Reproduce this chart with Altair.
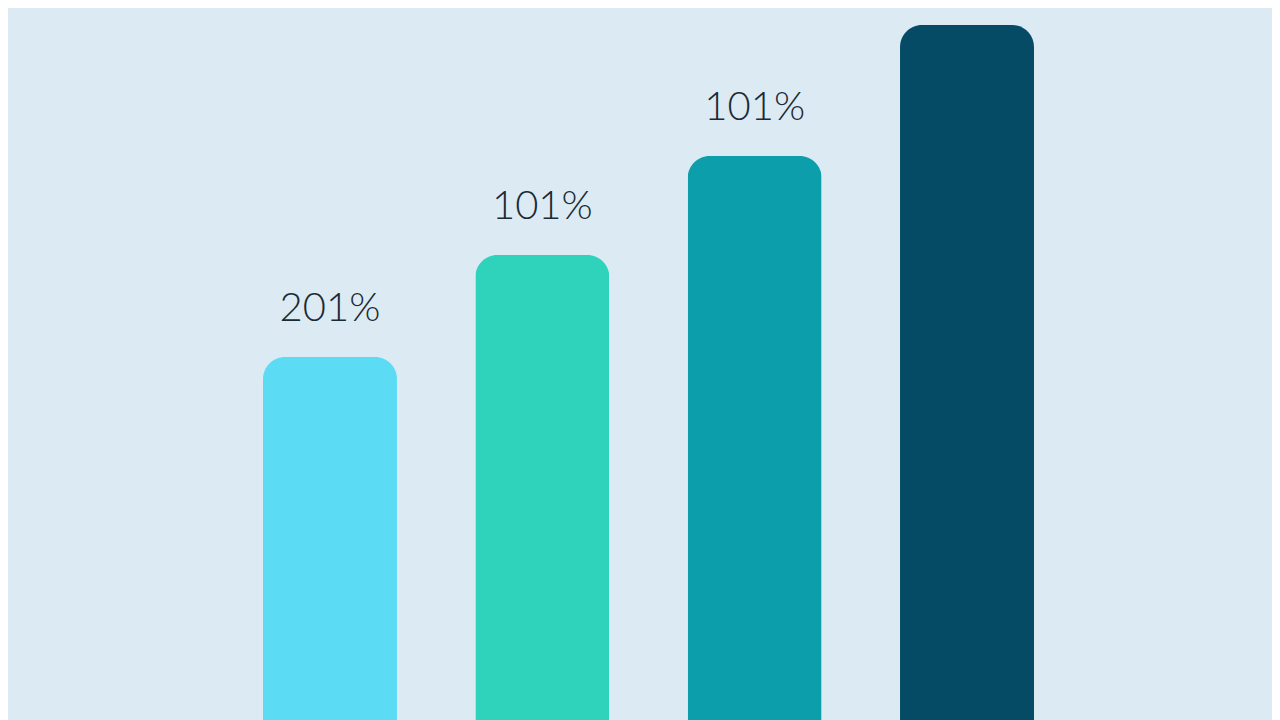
import altair as alt
import pandas as pd

categories = ["A", "B", "C", "D"]
heights = [363, 465, 564, 695]
labels = ["201%", "101%", "101%", ""]
colors = ["#5cdbf4", "#2fd3bc", "#0c9fab", "#054b66"]

df = pd.DataFrame({"cat": categories, "h": heights, "label": labels})

x = alt.X("cat:N", axis=None,
          scale=alt.Scale(paddingInner=0.369, paddingOuter=0, range=[255, 1026]))
y = alt.Y("h:Q", axis=None, scale=alt.Scale(domain=[0, 712], nice=False, zero=True))

bars = alt.Chart(df).mark_bar(cornerRadiusTopLeft=22, cornerRadiusTopRight=22).encode(
    x=x, y=y,
    color=alt.Color("cat:N", scale=alt.Scale(domain=categories, range=colors), legend=None),
)

text = alt.Chart(df).transform_filter("datum.label != ''").mark_text(
    dy=-36, baseline="alphabetic", fontSize=40, font="Lato", fontWeight=300,
    color="#1b2a33", align="center"
).encode(x=x, y=y, text="label:N")

chart = (bars + text).properties(
    width=1264, height=712,
    autosize=alt.AutoSizeParams(type="none"),
    padding=0,
    background="#dcebf3",
).configure_view(stroke=None)

chart.save("out.html", embed_options={"renderer": "svg", "actions": False})
